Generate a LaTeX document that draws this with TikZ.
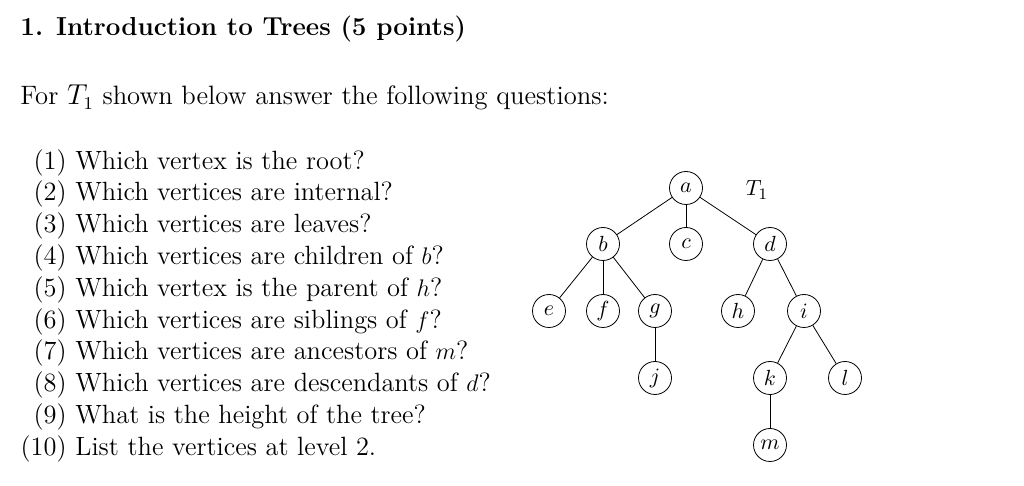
\documentclass[tikz,border=0pt]{standalone}
\begin{document}
\begin{tikzpicture}[x=0.5pt,y=-0.5pt,
  vtx/.style={circle,draw,thin,minimum size=16.5pt,inner sep=0pt,font=\fontsize{11}{13}\selectfont},
  edge/.style={thin},
  txt/.style={anchor=base west,inner sep=0pt,font=\fontsize{13.2}{16}\selectfont},
  num/.style={anchor=base east,inner sep=0pt,font=\fontsize{13.2}{16}\selectfont}]
\useasboundingbox (0,0) rectangle (1024,486);
\node[anchor=base west,inner sep=0pt,font=\fontsize{13}{16}\selectfont\bfseries] (title) at (20,36) {1. Introduction to Trees (5 points)};
\node[txt,font=\fontsize{13.3}{16}\selectfont] (intro) at (20,105) {For $T_1$ shown below answer the following questions:};
\foreach \n/\y/\t in {1/170/Which vertex is the root?,
 2/201/Which vertices are internal?,
 3/233/Which vertices are leaves?,
 4/265/Which vertices are children of $b$?,
 5/297/Which vertex is the parent of $h$?,
 6/329/Which vertices are siblings of $f$?,
 7/360/Which vertices are ancestors of $m$?,
 8/392/Which vertices are descendants of $d$?,
 9/424/What is the height of the tree?,
 10/456/List the vertices at level 2.}{
 \node[num] (n\n) at (67,\y) {(\n)};
 \node[txt] (q\n) at (75,\y) {\t};
}
\node[vtx] (a) at (686,188) {$a$};
\node[vtx] (b) at (603,244) {$b$};
\node[vtx] (c) at (686,244) {$c$};
\node[vtx] (d) at (770,244) {$d$};
\node[vtx] (e) at (549,311) {$e$};
\node[vtx] (f) at (603,311) {$f$};
\node[vtx] (g) at (655,311) {$g$};
\node[vtx] (h) at (738,311) {$h$};
\node[vtx] (i) at (804,311) {$i$};
\node[vtx] (j) at (655,378) {$j$};
\node[vtx] (k) at (770,378) {$k$};
\node[vtx] (l) at (845,378) {$l$};
\node[vtx] (m) at (770,445) {$m$};
\node[font=\fontsize{11}{13}\selectfont] (T) at (757,190) {$T_1$};
\foreach \u/\v in {a/b,a/c,a/d,b/e,b/f,b/g,g/j,d/h,d/i,i/k,i/l,k/m}
  \draw[edge] (\u) -- (\v);
\end{tikzpicture}
\end{document}
